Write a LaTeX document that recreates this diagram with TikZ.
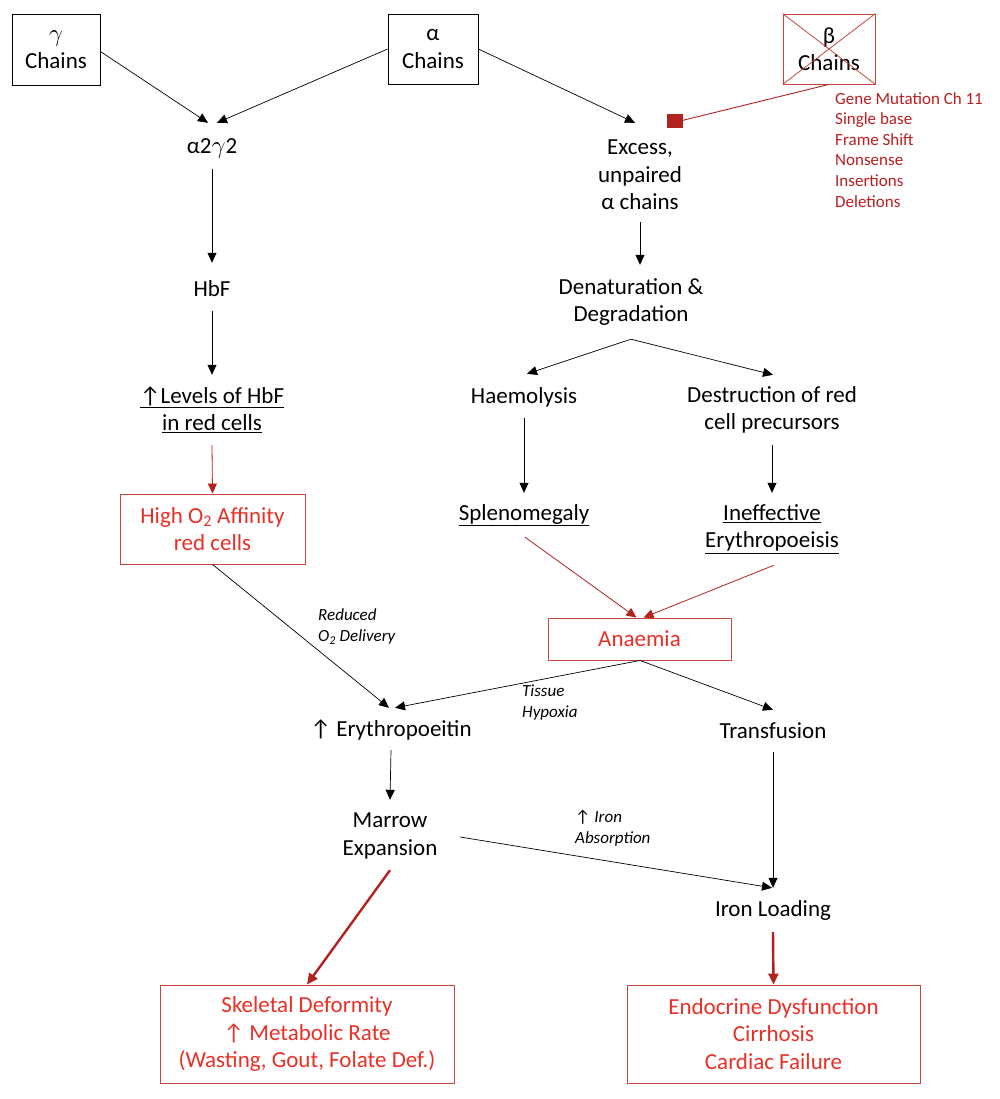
\documentclass[tikz,border=0pt]{standalone}
\usepackage{fontspec}
\setmainfont{Carlito}
\usetikzlibrary{arrows.meta,calc}
\definecolor{boxred}{RGB}{196,70,60}
\definecolor{textred}{RGB}{232,48,38}
\definecolor{arrred}{RGB}{178,34,30}
\definecolor{generd}{RGB}{186,30,32}
\tikzset{
  big/.style={font=\fontsize{23}{27.3}\selectfont},
  txt/.style={big,align=center,inner sep=0pt,minimum width=40pt},
  chainbox/.style={big,align=center,draw=black,line width=0.8pt,inner sep=0pt},
  redbox/.style={big,align=center,draw=boxred,line width=0.9pt,text=textred,inner sep=0pt},
  lbl/.style={font=\fontsize{17}{21}\selectfont\itshape,align=left,inner sep=0pt,anchor=west},
  arr/.style={draw=black,line width=0.7pt,-{Triangle[length=10pt,width=9pt]}},
  rarr/.style={draw=arrred,line width=0.8pt,-{Triangle[length=10pt,width=9pt]}},
  thickarr/.style={draw=arrred,line width=2.4pt,-{Triangle[length=11pt,width=10pt]}},
}
\begin{document}
\begin{tikzpicture}[x=1pt,y=-1pt]
\useasboundingbox (0,0) rectangle (1000,1099);
% top boxes
\node[chainbox,minimum width=88pt,minimum height=71pt] (gam) at (56,49.5) {$\gamma$\\Chains};
\node[chainbox,minimum width=90pt,minimum height=70pt] (alp) at (433,49) {α\\Chains};
\node[chainbox,draw=boxred,minimum width=92pt,minimum height=70pt] (bet) at (829,49) {β\\Chains};
\draw[boxred,line width=0.8pt] (bet.north west) -- (bet.south east);
\draw[boxred,line width=0.8pt] (bet.north east) -- (bet.south west);
% left column
\node[txt,minimum height=50pt] (a2g2) at (212,148) {α2$\gamma$2};
\node[txt,minimum height=52pt] (hbf) at (212,289) {HbF};
\node[txt,minimum height=70pt] (lev) at (212,410) {\underline{↑Levels of HbF}\\\underline{in red cells}};
\node[redbox,minimum width=185pt,minimum height=70pt] (high) at (212.5,529) {High O\textsubscript{2} Affinity\\red cells};
% right column
\node[txt,minimum height=100pt] (exc) at (640,175) {Excess,\\unpaired\\α chains};
\node[fill=arrred,draw=arrred,minimum width=15pt,minimum height=13pt,inner sep=0pt] (sq) at (674.5,120.5) {};
\node[anchor=north west,inner sep=0pt,align=left,text=generd,font=\fontsize{17}{20.6}\selectfont] (gene) at (835,92) {Gene Mutation Ch 11\\Single base\\Frame Shift\\Nonsense\\Insertions\\Deletions};
\node[txt,minimum height=74pt] (den) at (631,302) {Denaturation \&\\Degradation};
\node[txt,minimum height=46pt] (hae) at (524,397) {Haemolysis};
\node[txt,minimum height=70pt] (des) at (772,410) {Destruction of red\\cell precursors};
\node[txt,minimum height=44pt] (spl) at (524,515) {\underline{Splenomegaly}};
\node[txt,minimum height=72pt] (ine) at (772,529) {\underline{Ineffective}\\\underline{Erythropoeisis}};
\node[redbox,minimum width=183pt,minimum height=42pt] (ana) at (639.5,639) {Anaemia};
% lower part
\node[txt,minimum height=44pt] (ery) at (391,730) {↑ Erythropoeitin};
\node[txt,minimum height=42pt] (tra) at (773,731) {Transfusion};
\node[txt,minimum height=72pt,minimum width=140pt] (mar) at (390,836) {Marrow\\Expansion};
\node[txt,minimum height=44pt] (iro) at (773,910) {Iron Loading};
\node[redbox,minimum width=294pt,minimum height=98pt] (ske) at (307,1034) {Skeletal Deformity\\↑ Metabolic Rate\\(Wasting, Gout, Folate Def.)};
\node[redbox,minimum width=293pt,minimum height=98pt] (endo) at (773.5,1034) {Endocrine Dysfunction\\Cirrhosis\\Cardiac Failure};
% labels
\node[lbl] (l1) at (318,626.5) {Reduced\\O\textsubscript{2} Delivery};
\node[lbl] (l2) at (522,702.5) {Tissue\\Hypoxia};
\node[lbl] (l3) at (575,828) {{\upshape↑} Iron\\Absorption};
% connectors
\draw[arr] ($(gam.east)+(0,2)$) -- ($(a2g2.north)+(-4,0)$);
\draw[arr] (alp.west) -- ($(a2g2.north)+(5,0)$);
\draw[arr] (alp.east) -- ($(exc.north)+(-5,-2)$);
\draw[draw=arrred,line width=0.9pt] (bet.south) -- (sq.east);
\draw[arr] ($(a2g2.south)+(0,-4)$) -- (hbf.north);
\draw[arr] ($(hbf.south)+(0,-4)$) -- (lev.north);
\draw[rarr] (lev.south) -- (high.north);
\draw[arr] ($(exc.south)+(0,-3)$) -- ($(den.north)+(9,0)$);
\draw[arr] (den.south) -- ($(hae.north)+(3,0)$);
\draw[arr] (den.south) -- ($(des.north)+(1,0)$);
\draw[arr] ($(hae.south)+(0,-2)$) -- (spl.north);
\draw[arr] (des.south) -- (ine.north);
\draw[rarr] ($(spl.south)+(1,0)$) -- ($(ana.north)+(-3,0)$);
\draw[rarr] ($(ine.south)+(2,0)$) -- ($(ana.north)+(4,0)$);
\draw[arr] (high.south) -- ($(ery.north)+(-2,0)$);
\draw[arr] ($(ana.south)+(0.5,0)$) -- ($(ery.north)+(4,0)$);
\draw[arr] ($(ana.south)+(0.5,0)$) -- (tra.north);
\draw[arr] ($(ery.south)+(0,-2)$) -- (mar.north);
\draw[arr] ($(tra.south)+(0,0)$) -- (iro.north);
\draw[arr] ($(mar.east)+(0,1)$) -- ($(iro.north)+(-1,0)$);
\draw[thickarr] ($(mar.south)+(0,-2)$) -- (ske.north);
\draw[thickarr] (iro.south) -- (endo.north);
\end{tikzpicture}
\end{document}
